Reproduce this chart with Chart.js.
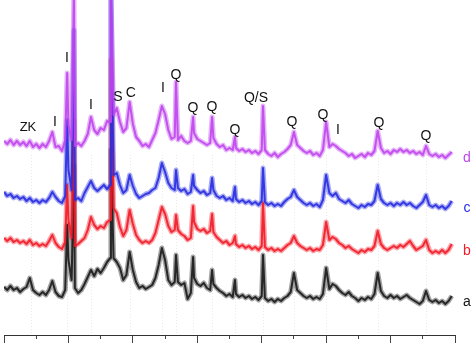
<!DOCTYPE html>
<html>
<head>
<meta charset="utf-8">
<script src="https://cdn.jsdelivr.net/npm/chart.js@4.4.1/dist/chart.umd.min.js"></script>
<style>
  html, body { margin: 0; padding: 0; background: #fff; }
  #xrd { display: block; }
</style>
</head>
<body>
<canvas id="xrd" width="474" height="344"></canvas>
<script>
// 2-theta sampling positions (deg), shared by all four patterns
const angles = [
    5, 5.5, 6, 6.5, 7, 7.5, 8, 8.5, 9, 9.5,
    10, 10.5, 11, 11.5, 12, 12.5, 13, 13.5, 14, 14.5,
    14.8, 15, 15.5, 15.85, 16, 16.5, 17, 17.5, 18, 18.5,
    19, 19.5, 20, 20.5, 21, 21.5, 21.6, 22, 22.5, 23,
    23.5, 24, 24.5, 25, 25.5, 26, 26.5, 27, 27.5, 28,
    28.5, 29, 29.5, 30, 30.5, 31, 31.5, 31.7, 32, 32.5,
    33, 33.5, 34, 34.35, 34.5, 35, 35.5, 36, 36.5, 37,
    37.3, 37.5, 38, 38.5, 39, 39.5, 40, 40.5, 40.85, 41,
    41.5, 42, 42.5, 43, 43.5, 44, 44.5, 45, 45.2, 45.5,
    46, 46.5, 47, 47.5, 48, 48.5, 49, 49.5, 50, 50.5,
    51, 51.5, 52, 52.5, 53, 53.5, 54, 54.5, 55, 55.5,
    56, 56.5, 57, 57.5, 58, 58.5, 59, 59.5, 60, 60.5,
    61, 61.5, 62, 62.5, 63, 63.5, 64, 64.5, 65, 65.5,
    66, 66.5, 67, 67.5, 68, 68.5, 69, 69.5, 70, 70.5,
    71, 71.5, 72, 72.5, 73, 73.5, 74, 74.5
];

// intensities (a.u.), already offset so the patterns stack a -> d
const patternD = [
    194, 191, 195, 190, 194, 190, 193, 189, 194, 188,
    191, 187, 191, 188, 194, 203, 188, 189, 184, 195,
    262, 210, 195, 345, 189, 192, 189, 194, 201, 218,
    205, 201, 207, 205, 214, 213, 345, 220, 227, 213,
    203, 207, 233, 211, 198, 194, 189, 191, 188, 195,
    202, 215, 229, 221, 205, 196, 198, 253, 195, 199,
    194, 192, 194, 218, 202, 196, 194, 192, 190, 192,
    218, 197, 191, 188, 190, 185, 187, 185, 198, 187,
    184, 186, 183, 185, 182, 184, 181, 185, 229, 185,
    181, 179, 182, 178, 181, 183, 186, 190, 203, 190,
    187, 184, 182, 184, 180, 182, 179, 185, 213, 188,
    191, 189, 186, 184, 182, 179, 181, 177, 179, 181,
    178, 182, 180, 184, 204, 187, 182, 184, 181, 185,
    183, 186, 183, 185, 182, 184, 181, 183, 180, 189,
    181, 179, 181, 178, 180, 177, 180, 183
];
const patternC = [
    143, 139, 141, 137, 139, 136, 138, 134, 137, 133,
    135, 132, 135, 133, 137, 143, 138, 134, 132, 139,
    215, 165, 145, 305, 135, 137, 134, 142, 148, 154,
    147, 144, 147, 150, 146, 150, 345, 160, 162, 150,
    142, 145, 160, 149, 141, 137, 139, 141, 142, 145,
    147, 157, 172, 163, 152, 147, 145, 165, 147, 144,
    146, 141, 143, 160, 149, 145, 142, 144, 140, 142,
    157, 145, 139, 137, 139, 135, 137, 134, 148, 136,
    133, 135, 132, 134, 131, 133, 130, 134, 167, 133,
    130, 132, 129, 131, 129, 133, 136, 138, 145, 138,
    135, 132, 130, 132, 129, 131, 128, 135, 160, 142,
    139, 142, 136, 134, 132, 135, 131, 129, 127, 130,
    128, 131, 130, 134, 150, 136, 132, 130, 132, 129,
    132, 130, 133, 130, 132, 129, 127, 130, 133, 140,
    130, 128, 130, 127, 129, 126, 129, 134
];
const patternB = [
    97, 94, 97, 93, 95, 92, 94, 91, 95, 90,
    92, 89, 91, 89, 94, 100, 92, 88, 86, 93,
    150, 115, 97, 215, 89, 91, 94, 97, 105, 118,
    110, 106, 109, 107, 113, 115, 275, 127, 122, 108,
    99, 105, 125, 111, 100, 95, 92, 94, 92, 95,
    102, 115, 128, 121, 109, 103, 105, 120, 105, 101,
    99, 95, 97, 129, 113, 106, 104, 106, 102, 104,
    121, 103, 98, 95, 92, 94, 90, 92, 99, 91,
    88, 90, 87, 89, 86, 88, 85, 89, 132, 88,
    85, 87, 84, 86, 84, 87, 90, 92, 99, 92,
    89, 87, 85, 87, 84, 86, 85, 90, 113, 95,
    98, 96, 92, 90, 87, 89, 86, 84, 82, 85,
    83, 86, 85, 89, 104, 91, 87, 85, 87, 89,
    87, 90, 88, 91, 94, 89, 85, 87, 89, 95,
    85, 82, 84, 82, 85, 82, 85, 91
];
const patternA = [
    48, 45, 49, 45, 47, 43, 46, 48, 57, 45,
    42, 40, 43, 40, 45, 54, 43, 39, 38, 45,
    110, 75, 55, 170, 47, 42, 45, 51, 58, 65,
    59, 66, 62, 67, 73, 77, 185, 77, 73, 67,
    55, 60, 83, 65, 53, 47, 49, 46, 48, 50,
    57, 70, 87, 75, 55, 50, 53, 80, 53, 50,
    52, 36, 42, 78, 57, 51, 49, 52, 47, 45,
    65, 51, 47, 44, 42, 39, 41, 38, 55, 41,
    38, 40, 37, 39, 36, 38, 35, 39, 80, 37,
    34, 36, 33, 36, 34, 37, 39, 43, 62, 45,
    42, 39, 37, 39, 36, 38, 36, 41, 67, 46,
    51, 49, 45, 42, 40, 43, 39, 37, 34, 37,
    35, 38, 36, 41, 62, 44, 39, 37, 40, 37,
    39, 36, 38, 40, 37, 35, 33, 31, 34, 44,
    35, 33, 35, 32, 34, 31, 34, 39
];

// phase marks above pattern d
const phaseLabels  = ['ZK', 'I', 'I', 'I', 'S', 'C', 'I', 'Q', 'Q', 'Q', 'Q', 'Q/S', 'Q', 'Q', 'I', 'Q', 'Q'];
const phaseAngles  = [8.72, 12.92, 14.78, 18.5, 22.7, 24.7, 29.68, 31.7, 34.33, 37.28, 40.85, 44.11, 49.7, 54.5, 56.84, 63.2, 70.5];
const phaseHeights = [208, 213, 277, 230, 238, 242, 247, 260, 227, 228, 205, 237, 213, 220, 205, 212, 199];

// reflections marked with faint guide lines
const guideAngles = [9.2, 14.8, 18.5, 24.5, 29.6, 31.7, 34.35, 37.3, 40.85, 45.2, 50, 55, 63, 70.5];

// sample names at the right end of each pattern
const sampleNames   = ['a', 'b', 'c', 'd'];
const sampleHeights = [33, 84, 127, 177];
const sampleAngle   = 76.86;

const minorTicks = [10, 20, 30, 40, 50, 60, 70];
const majorTicks = [5, 15, 25, 35, 45, 55, 65, 75];

const toPoints = vals => angles.map((t, i) => ({ x: t, y: vals[i] }));

// rgb per pattern; core and halo get their own alpha
const rgb = {
    a: '25, 25, 25',
    b: '242, 28, 40',
    c: '40, 45, 225',
    d: '192, 70, 238'
};

// labels, guide lines
const annotate = {
    id: 'annotate',
    beforeDatasetsDraw(chart) {
        const { ctx, scales: { x, y } } = chart;
        ctx.save();
        ctx.strokeStyle = 'rgba(120, 120, 120, 0.16)';
        ctx.lineWidth = 1;
        ctx.setLineDash([1, 2]);
        guideAngles.forEach(t => {
            const px = Math.round(x.getPixelForValue(t)) + 0.5;
            ctx.beginPath();
            ctx.moveTo(px, y.getPixelForValue(180));
            ctx.lineTo(px, y.getPixelForValue(0));
            ctx.stroke();
        });
        ctx.restore();
    },
    afterDatasetsDraw(chart) {
        const { ctx, scales: { x, y } } = chart;
        ctx.save();
        ctx.textAlign = 'center';
        ctx.textBaseline = 'middle';
        ctx.fillStyle = '#111';
        phaseLabels.forEach((t, i) => {
            ctx.font = (t === 'ZK' ? '13px' : '14px') + ' "Liberation Sans", Arial, sans-serif';
            ctx.fillText(t, x.getPixelForValue(phaseAngles[i]), y.getPixelForValue(phaseHeights[i]));
        });
        ctx.font = '14px "Liberation Sans", Arial, sans-serif';
        sampleNames.forEach((n, i) => {
            ctx.fillStyle = n === 'a' ? '#111' : `rgb(${rgb[n]})`;
            ctx.fillText(n, x.getPixelForValue(sampleAngle), y.getPixelForValue(sampleHeights[i]));
        });
        ctx.restore();
    }
};

// a core line plus a wider translucent band gives the noisy trace look
const lineSet = (name, vals, halo) => ({
    label: name + (halo ? ' halo' : ''),
    data: toPoints(vals),
    borderColor: halo ? `rgba(${rgb[name]}, 0.4)` : `rgba(${rgb[name]}, 0.9)`,
    borderWidth: halo ? 5 : 2,
    borderJoinStyle: 'round',
    pointRadius: 0,
    tension: 0,
    fill: false
});

new Chart(document.getElementById('xrd'), {
    type: 'line',
    data: {
        // index 0 is painted last: cores over halos, d over the rest
        datasets: [
            lineSet('d', patternD, false),
            lineSet('c', patternC, false),
            lineSet('b', patternB, false),
            lineSet('a', patternA, false),
            lineSet('d', patternD, true),
            lineSet('c', patternC, true),
            lineSet('b', patternB, true),
            lineSet('a', patternA, true)
        ]
    },
    options: {
        responsive: false,
        animation: false,
        devicePixelRatio: 1,
        layout: { padding: { left: 4, right: 19, top: 0, bottom: 0 } },
        plugins: { legend: { display: false }, tooltip: { enabled: false } },
        scales: {
            x: {
                type: 'linear',
                min: 5,
                max: 75,
                position: 'bottom',
                weight: 1,
                afterBuildTicks: s => { s.ticks = minorTicks.map(v => ({ value: v })); },
                afterFit: s => { s.height = 9; },
                ticks: { display: false },
                grid: { drawOnChartArea: false, drawTicks: true, tickLength: 4, color: '#444' },
                border: { display: true, color: '#333', width: 1 }
            },
            x2: {
                type: 'linear',
                min: 5,
                max: 75,
                position: 'bottom',
                weight: 0,
                afterBuildTicks: s => { s.ticks = majorTicks.map(v => ({ value: v })); },
                afterFit: s => { s.height = 0; },
                ticks: { display: false },
                grid: { drawOnChartArea: false, drawTicks: true, tickLength: 8, color: '#444' },
                border: { display: false }
            },
            y: {
                display: false,
                min: 0,
                max: 335
            }
        }
    },
    plugins: [annotate]
});
</script>
</body>
</html>
